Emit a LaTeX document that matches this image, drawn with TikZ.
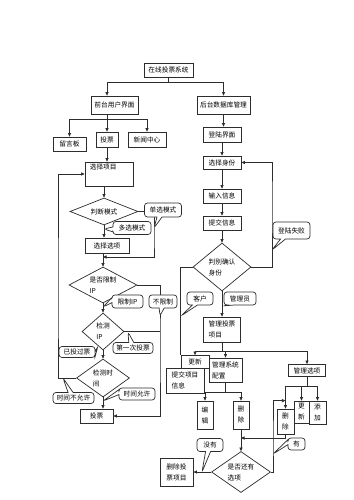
\documentclass[tikz,border=0pt]{standalone}
\usepackage{fontspec}
\setmainfont{Noto Sans CJK SC}
\usepackage{tikz}
\usetikzlibrary{positioning,calc}
\usetikzlibrary{arrows.meta,shapes.geometric,shapes.callouts}
\definecolor{LineGray}{RGB}{45,45,45}
\tikzset{
  wh/.style n args={2}{minimum width=#1*0.3mm,minimum height=#2*0.3mm},
  box/.style={draw=LineGray,fill=white,inner sep=0pt,line width=0.6pt,align=center},
  dia/.style={diamond,draw=LineGray,fill=white,inner sep=0pt,line width=0.6pt,align=left},
  tip/.style={rectangle callout,draw=LineGray,fill=white,rounded corners=2.5pt,
    inner sep=0pt,line width=0.6pt,callout pointer width=0.15cm},
  link/.style={draw=LineGray,line width=0.6pt},
  arr/.style={link,-{Triangle[length=3pt,width=2.6pt]}},
}

\begin{document}
\begin{tikzpicture}[x=0.3mm,y=-0.3mm,font=\fontsize{5.7}{9.4}\selectfont]
\fill[white,use as bounding box] (0,0) rectangle (353,500);
\node[box,wh={49}{14}] (sys) at (168.5,70) {在线投票系统};
\node[box,wh={47}{18}] (front) at (114.5,105) {前台用户界面};
\node[box,wh={53}{18}] (back) at (223.5,105) {后台数据库管理};
\node[box,wh={33}{14}] (board) at (69.5,144) {留言板};
\node[box,wh={22}{15}] (vote) at (107,139.5) {投票};
\node[box,wh={38}{15}] (news) at (147,139.5) {新闻中心};
\coordinate (s1) at (168.5,82);
\draw[arr] (sys.south) -- (s1) -| (front.north -| vote.north);
\draw[arr] (s1) -| (back.north);
\coordinate (f1) at (107,119);
\draw[link] (front.south -| vote.north) -- (f1);
\draw[arr] (f1) -| (board.north);
\draw[arr] (f1) -- (vote.north);
\draw[arr] (f1) -| (news.north);

\node[box,wh={48}{24}] (sel) at (109,174) {};
\node[anchor=north west,inner sep=0pt] (selTxt) at ($(sel.north west)+(5,2.5)$) {选择项目};
\draw[arr] (vote.south) -- (vote.south |- sel.north);
\node[dia,wh={68}{27},aspect=2.5] (mode) at (104,211.5) {判断模式};
\draw[arr] (sel.south -| mode.north) -- (mode.north);
\node[box,wh={44}{15}] (opt) at (107,245.5) {选择选项};
\draw[arr] (mode.south) -- (mode.south |- opt.north);
\node[dia,wh={68}{36},aspect=1.9] (ipq) at (103,285) {是否限制\\IP};
\coordinate (j1) at (103,257);
\draw[arr] (opt.south -| ipq.north) -- (ipq.north);
\coordinate (sgl) at (154,240);
\draw[arr] (mode.east) -| (sgl) |- (j1);
\node[dia,wh={42}{37},aspect=1.1] (ckip) at (103,331.5) {检测\\IP};
\draw[arr] (ipq.south) -- (ckip.north);
\node[dia,wh={53}{38},aspect=1.4] (cktime) at (103,378) {检测时\\间};
\draw[arr] (ckip.south) -- (cktime.north);
\node[box,wh={33}{14}] (poll) at (96.5,416) {投票};
\draw[arr] (cktime.south) -- (cktime.south |- poll.north);
\coordinate (nolim) at (160,350);
\draw[arr] (ipq.east) -| (nolim) |- (poll.east);
\draw[link] (ckip.east) -- (ckip.east -| nolim);
\coordinate (back1) at (58,300);
\draw[arr] (cktime.west) -| (back1) |- (sel.west);

\node[box,wh={38}{15}] (login) at (222,134.5) {登陆界面};
\node[box,wh={38}{13}] (role) at (222,162.5) {选择身份};
\node[box,wh={38}{14}] (info) at (222,196) {输入信息};
\node[box,wh={38}{14}] (submit) at (222,223) {提交信息};
\node[dia,wh={58}{48},aspect=1.2] (verify) at (222,267) {判别确认\\身份};
\draw[arr] (back.south) -- (back.south |- login.north);
\draw[arr] (login.south) -- (role.north);
\draw[arr] (role.south) -- (info.north);
\draw[arr] (info.south) -- (submit.north);
\draw[arr] (submit.south) -- (verify.north);
\coordinate (fail) at (272,200);
\draw[arr] (verify.east) -| (fail) |- (role.east);

\node[box,wh={37}{25},align=left] (mgvote) at (222,329.5) {管理投票\\项目};
\node[box,wh={38}{25},align=left] (subinfo) at (185,380.5) {提交项目\\信息};
\node[box,wh={28}{13}] (update) at (195,362) {更新};
\node[box,wh={33}{24},align=left] (conf) at (225.5,370) {管理系统\\配置};
\node[box,wh={37}{12}] (mgopt) at (307,370.5) {管理选项};
\draw[link] (verify.west) -| (update.north west);
\draw[arr] (verify.south) -- (mgvote.north);
\coordinate (b1) at (222,351);
\draw[link] (mgvote.south) -- (b1);
\draw[arr] (b1) -| (update.north);
\draw[arr] (b1) -| (conf.north);
\draw[arr] (b1) -| (mgopt.north);

\node[box,wh={16}{28}] (edit) at (205,415) {编\\辑};
\node[box,wh={16}{28}] (del) at (241,415) {删\\除};
\coordinate (b2) at (225.5,392);
\draw[link] (conf.south) -- (b2);
\draw[arr] (b2) -| (edit.north);
\draw[arr] (b2) -| (del.north);
\node[box,wh={17}{25}] (optdel) at (285.5,421.5) {删\\除};
\node[box,wh={15}{22}] (optupd) at (301.5,412) {更\\新};
\node[box,wh={17}{23}] (optadd) at (317.5,412.5) {添\\加};
\coordinate (b3) at (307,386);
\draw[link] (mgopt.south) -- (b3);
\draw[arr] (b3) -| (optdel.north);
\draw[arr] (b3) -| (optupd.north);
\draw[arr] (b3) -| (optadd.north);

\node[dia,wh={59}{41},aspect=1.4] (more) at (241,472) {是否还有\\选项};
\node[box,wh={33}{28},align=left] (delvote) at (176.5,472) {删除投\\票项目};
\draw[arr] (del.south) -- (more.north);
\coordinate (ret) at (260,438);
\draw[arr] (optdel.south) |- (del.south |- ret);
\coordinate (again) at (273,440);
\draw[arr] (more.east) -| (again) |- (optupd.north -| optdel.north);
\draw[arr] (more.west) -- (delvote.east);

\node[tip,wh={37}{14},callout absolute pointer={(154,228)}] (single) at (163,210) {单选模式};
\node[tip,wh={38}{13},callout absolute pointer={(104,229)}] (multi) at (132,228) {多选模式};
\node[tip,wh={31}{13},callout absolute pointer={(103,307)}] (limit) at (127.5,301.5) {限制IP};
\node[tip,wh={28}{13},callout absolute pointer={(160,316)}] (free) at (163,301.5) {不限制};
\node[tip,wh={40}{11},callout absolute pointer={(128,332)}] (first) at (133,348) {第一次投票};
\node[tip,wh={36}{11},callout absolute pointer={(98,346)}] (voted) at (77,352) {已投过票};
\node[tip,wh={36}{12},callout absolute pointer={(103,401)}] (allow) at (137,394) {时间允许};
\node[tip,wh={41}{11},callout absolute pointer={(63,378)}] (deny) at (73.5,398) {时间不允许};
\node[tip,wh={37}{17},callout absolute pointer={(272,250)}] (failTip) at (291.5,230.5) {登陆失败};
\node[tip,wh={26}{13},callout absolute pointer={(181,316)}] (cust) at (200,298.5) {客户};
\node[tip,wh={32}{13},callout absolute pointer={(222,306)}] (admin) at (240,298.5) {管理员};
\node[tip,wh={17}{12},callout absolute pointer={(273,454)}] (yes) at (296.5,444) {有};
\node[tip,wh={26}{13},callout absolute pointer={(202,472)}] (no) at (210,445) {没有};
\end{tikzpicture}
\end{document}
